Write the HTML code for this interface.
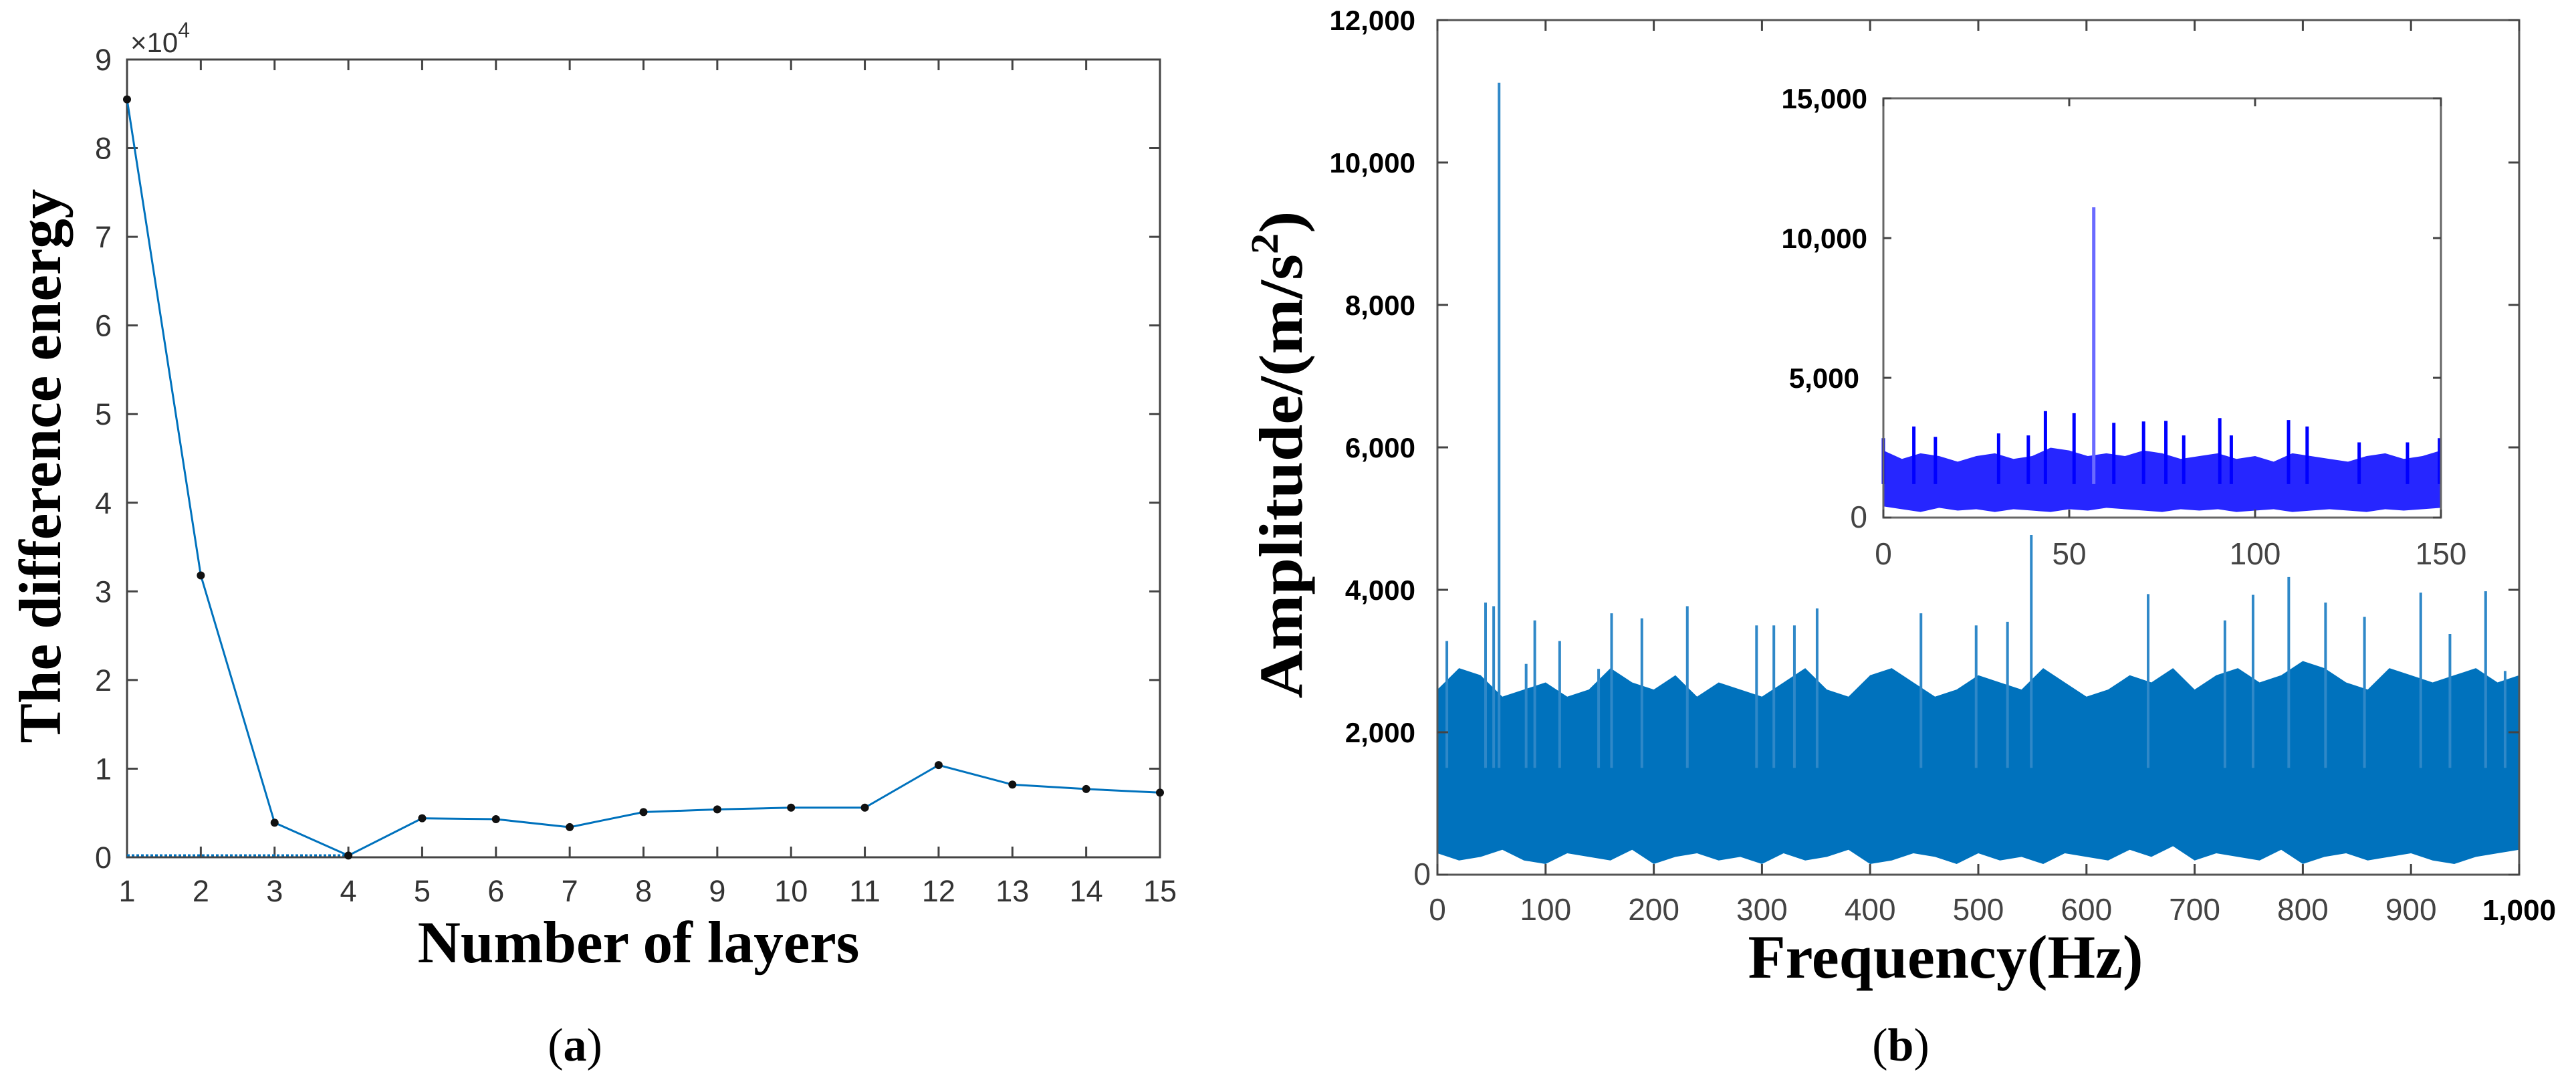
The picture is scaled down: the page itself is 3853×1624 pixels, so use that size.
<!DOCTYPE html>
<html><head><meta charset="utf-8"><style>
html,body{margin:0;padding:0;background:#fff;}
svg{display:block;}
</style></head><body>
<svg id="fig" width="3853" height="1624" viewBox="0 0 3853 1624" xmlns="http://www.w3.org/2000/svg">
<g id="left"></g>
<g id="right"></g>
</svg>
<script>
// ---------- Chart (a) data ----------
const layers = [1,2,3,4,5,6,7,8,9,10,11,12,13,14,15];
const energy = [85500,31800,3900,200,4400,4300,3400,5100,5400,5600,5600,10400,8200,7700,7300];
const baseLayers = [1,2,3,4];
const baseValues = [0,0,0,0];
const aYTicks = [0,1,2,3,4,5,6,7,8,9];
const aXTicks = [1,2,3,4,5,6,7,8,9,10,11,12,13,14,15];

// ---------- Chart (b) data ----------
const bXTicks = [0,100,200,300,400,500,600,700,800,900,1000];
const bXTickLabels = ["0","100","200","300","400","500","600","700","800","900","1,000"];
const bYTicks = [0,2000,4000,6000,8000,10000,12000];
const bYTickLabels = ["0","2,000","4,000","6,000","8,000","10,000","12,000"];
const bEnvFreq = [0,20,40,60,80,100,120,140,160,180,200,220,240,260,280,300,320,340,360,380,400,420,440,460,480,500,520,540,560,580,600,620,640,660,680,700,720,740,760,780,800,820,840,860,880,900,920,940,960,980,1000];
const bUpper = [2600,2900,2800,2500,2600,2700,2500,2600,2900,2700,2600,2800,2500,2700,2600,2500,2700,2900,2600,2500,2800,2900,2700,2500,2600,2800,2700,2600,2900,2700,2500,2600,2800,2700,2900,2600,2800,2900,2700,2800,3000,2900,2700,2600,2900,2800,2700,2800,2900,2700,2800];
const bLower = [300,200,250,350,200,150,300,250,200,350,150,250,300,200,250,150,300,200,250,350,150,200,300,250,150,300,200,250,150,300,250,200,350,250,400,200,300,250,200,350,150,250,300,200,250,300,200,150,250,300,350];
const bSpikeFreq = [8.7,44.5,52,57,82,90,113,149,161,189,231,295,311,330,351,447,498,527,549,657,728,754,787,821,857,909,936,969,987];
const bSpikeAmp = [3280,3820,3770,11120,2960,3570,3280,2890,3670,3600,3770,3500,3500,3500,3740,3670,3500,3550,4770,3940,3570,3930,4180,3820,3620,3960,3380,3980,2860];

// ---------- Inset data ----------
const iXTicks = [0,50,100,150];
const iXTickLabels = ["0","50","100","150"];
const iYTicks = [0,5000,10000,15000];
const iYTickLabels = ["0","5,000","10,000","15,000"];
const iEnvFreq = [0,5,10,15,20,25,30,35,40,45,50,55,60,65,70,75,80,85,90,95,100,105,110,115,120,125,130,135,140,145,150];
const iUpper = [2400,2100,2300,2200,2000,2200,2300,2100,2200,2500,2400,2200,2300,2200,2400,2300,2100,2200,2300,2100,2200,2000,2300,2200,2100,2000,2200,2300,2100,2200,2400];
const iLower = [400,300,200,350,250,300,200,300,250,200,300,250,350,300,250,200,300,250,300,200,250,300,200,250,300,250,200,300,250,300,350];
const iSpikeFreq = [0,8.2,14,31,39,43.6,51.3,56.6,62,70,76,80.8,90.5,93.6,109,114,128,141,149.6];
const iSpikeAmp = [2840,3260,2890,3010,2940,3810,3735,11100,3390,3440,3460,2940,3560,2940,3490,3260,2690,2690,2840];

const NS = "http://www.w3.org/2000/svg";
function mk(parent, tag, attrs, text) {
  const e = document.createElementNS(NS, tag);
  for (const k in attrs) e.setAttribute(k, attrs[k]);
  if (text !== undefined) e.textContent = text;
  parent.appendChild(e);
  return e;
}
function lin(d0, d1, r0, r1) { return v => r0 + (v - d0) / (d1 - d0) * (r1 - r0); }

// ======== Chart (a) ========
(function(){
  const g = document.getElementById('left');
  const L = 190, R = 1735, T = 89, B = 1282;
  const x = lin(1, 15, L, R), y = lin(0, 90000, B, T);
  const axisCol = "#444";
  const box = mk(g, 'rect', {x:L, y:T, width:R-L, height:B-T, fill:'none', stroke:axisCol, 'stroke-width':3});
  
  
  aXTicks.forEach(t => {
    const xx = x(t);
    const tk = mk(g, 'path', {d:`M${xx},${B}v-16M${xx},${T}v16`, stroke:axisCol, 'stroke-width':3});
    
    
    const lb = mk(g, 'text', {x:xx, y:1348, 'text-anchor':'middle', 'font-family':'Liberation Sans, sans-serif', 'font-size':45, fill:'#333'}, String(t));
    
    
  });
  aYTicks.forEach(t => {
    const yy = y(t * 10000);
    const tk = mk(g, 'path', {d:`M${L},${yy}h16M${R},${yy}h-16`, stroke:axisCol, 'stroke-width':3});
    
    
    const lb = mk(g, 'text', {x:167, y:yy+16, 'text-anchor':'end', 'font-family':'Liberation Sans, sans-serif', 'font-size':45, fill:'#333'}, String(t));
    
    
  });
  const ex = mk(g, 'text', {x:195, y:78, 'font-family':'Liberation Sans, sans-serif', 'font-size':42, fill:'#333'}, '\u00d710');
  
  
  mk(ex, 'tspan', {dy:-22, 'font-size':32}, '4');
  // baseline dotted series
  const bl = mk(g, 'polyline', {points: baseLayers.map((l,i)=>`${x(l)},${y(baseValues[i])-3}`).join(' '), fill:'none', stroke:'#0072BD', 'stroke-width':3, 'stroke-dasharray':'4 3'});
  
  
  const ln = mk(g, 'polyline', {points: layers.map((l,i)=>`${x(l)},${y(energy[i])}`).join(' '), fill:'none', stroke:'#0072BD', 'stroke-width':3});
  
  
  layers.forEach((l,i) => {
    const c = mk(g, 'circle', {cx:x(l), cy:y(energy[i]), r:6, fill:'#111'});
    
    
  });
  const xt = mk(g, 'text', {x:955, y:1439, 'text-anchor':'middle', 'font-family':'Liberation Serif, serif', 'font-weight':'bold', 'font-size':89, fill:'#000'}, 'Number of layers');
  
  
  const yt = mk(g, 'text', {x:0, y:0, transform:'translate(90,697) rotate(-90)', 'text-anchor':'middle', 'font-family':'Liberation Serif, serif', 'font-weight':'bold', 'font-size':89, fill:'#000'}, 'The difference energy');
  
  
  const cap = mk(g, 'text', {x:860, y:1586, 'text-anchor':'middle', 'font-family':'Liberation Serif, serif', 'font-size':70, fill:'#000'}, '(');
  
  
  mk(cap, 'tspan', {'font-weight':'bold'}, 'a');
  mk(cap, 'tspan', {}, ')');
})();

// ======== Chart (b) ========
(function(){
  const g = document.getElementById('right');
  const L = 2150, R = 3768, T = 30, B = 1308;
  const x = lin(0, 1000, L, R), y = lin(0, 12000, B, T);
  const axisCol = "#555";
  // band
  let pts = bEnvFreq.map((f,i)=>`${x(f)},${y(bUpper[i])}`);
  pts = pts.concat(bEnvFreq.slice().reverse().map((f,j)=>{const i = bEnvFreq.length-1-j; return `${x(f)},${y(bLower[i])}`;}));
  const band = mk(g, 'polygon', {points: pts.join(' '), fill:'#0072BD'});
  
  
  bSpikeFreq.forEach((f,i) => {
    const s = mk(g, 'line', {x1:x(f), x2:x(f), y1:y(1500), y2:y(bSpikeAmp[i]), stroke:'#2f88c8', 'stroke-width':4});
    
    
  });
  const box = mk(g, 'rect', {x:L, y:T, width:R-L, height:B-T, fill:'none', stroke:axisCol, 'stroke-width':3});
  
  
  bXTicks.forEach((t,i) => {
    const xx = x(t);
    const tk = mk(g, 'path', {d:`M${xx},${B}v-16M${xx},${T}v16`, stroke:'#444', 'stroke-width':3});
    
    
    const last = i === bXTicks.length-1;
    const lb = mk(g, 'text', {x:xx, y:1376, 'text-anchor':'middle', 'font-family':'Liberation Sans, sans-serif', 'font-size':last?44:46, 'font-weight':last?'bold':'normal', fill:last?'#000':'#444'}, bXTickLabels[i]);
    
    
  });
  bYTicks.forEach((t,i) => {
    const yy = y(t);
    const tk = mk(g, 'path', {d:`M${L},${yy}h16M${R},${yy}h-16`, stroke:'#444', 'stroke-width':3});
    
    
    const zero = i === 0;
    const lb = mk(g, 'text', {x:zero?2140:2117, y:yy+15, 'text-anchor':'end', 'font-family':'Liberation Sans, sans-serif', 'font-size':zero?46:42, 'font-weight':zero?'normal':'bold', fill:zero?'#444':'#000'}, bYTickLabels[i]);
    
    
  });
  const xt = mk(g, 'text', {x:2910, y:1462, 'text-anchor':'middle', 'font-family':'Liberation Serif, serif', 'font-weight':'bold', 'font-size':92, fill:'#000'}, 'Frequency(Hz)');
  
  
  const yt = mk(g, 'text', {x:0, y:0, transform:'translate(1947,680) rotate(-90)', 'text-anchor':'middle', 'font-family':'Liberation Serif, serif', 'font-weight':'bold', 'font-size':92, fill:'#000', textLength:729, lengthAdjust:'spacingAndGlyphs'}, 'Amplitude/(m/s');
  
  
  mk(yt, 'tspan', {dy:-36, 'font-size':58}, '2');
  mk(yt, 'tspan', {dy:36}, ')');
  const cap = mk(g, 'text', {x:2843, y:1586, 'text-anchor':'middle', 'font-family':'Liberation Serif, serif', 'font-size':70, fill:'#000'}, '(');
  
  
  mk(cap, 'tspan', {'font-weight':'bold'}, 'b');
  mk(cap, 'tspan', {}, ')');

  // ---- inset ----
  const IL = 2817, IR = 3651, IT = 147, IB = 774;
  const ix = lin(0, 150, IL, IR), iy = lin(0, 15000, IB, IT);
  const ibg = mk(g, 'rect', {x:IL, y:IT, width:IR-IL, height:IB-IT, fill:'#fff', stroke:'none'});
  
  
  let ip = iEnvFreq.map((f,i)=>`${ix(f)},${iy(iUpper[i])}`);
  ip = ip.concat(iEnvFreq.slice().reverse().map((f,j)=>{const i = iEnvFreq.length-1-j; return `${ix(f)},${iy(iLower[i])}`;}));
  const iband = mk(g, 'polygon', {points: ip.join(' '), fill:'#0000FF', 'fill-opacity':0.85});
  
  
  iSpikeFreq.forEach((f,i) => {
    const s = mk(g, 'line', {x1:ix(f), x2:ix(f), y1:iy(1200), y2:iy(iSpikeAmp[i]), stroke:i===7?'#6a6aff':'#0000FF', 'stroke-width':5});
    
    
  });
  const ibox = mk(g, 'rect', {x:IL, y:IT, width:IR-IL, height:IB-IT, fill:'none', stroke:'#666', 'stroke-width':3});
  
  
  iXTicks.forEach((t,i) => {
    const xx = ix(t);
    const tk = mk(g, 'path', {d:`M${xx},${IB}v-12M${xx},${IT}v12`, stroke:'#444', 'stroke-width':3});
    
    
    const lb = mk(g, 'text', {x:xx, y:844, 'text-anchor':'middle', 'font-family':'Liberation Sans, sans-serif', 'font-size':46, fill:'#444'}, iXTickLabels[i]);
    
    
  });
  iYTicks.forEach((t,i) => {
    const yy = iy(t);
    const tk = mk(g, 'path', {d:`M${IL},${yy}h12M${IR},${yy}h-12`, stroke:'#444', 'stroke-width':3});
    
    
    const zero = i === 0;
    const lb = mk(g, 'text', {x:zero?2793:(i===1?2781:2793), y:yy+15, 'text-anchor':'end', 'font-family':'Liberation Sans, sans-serif', 'font-size':zero?46:42, 'font-weight':zero?'normal':'bold', fill:zero?'#444':'#000'}, iYTickLabels[i]);
    
    
  });
})();
</script>
</body></html>
